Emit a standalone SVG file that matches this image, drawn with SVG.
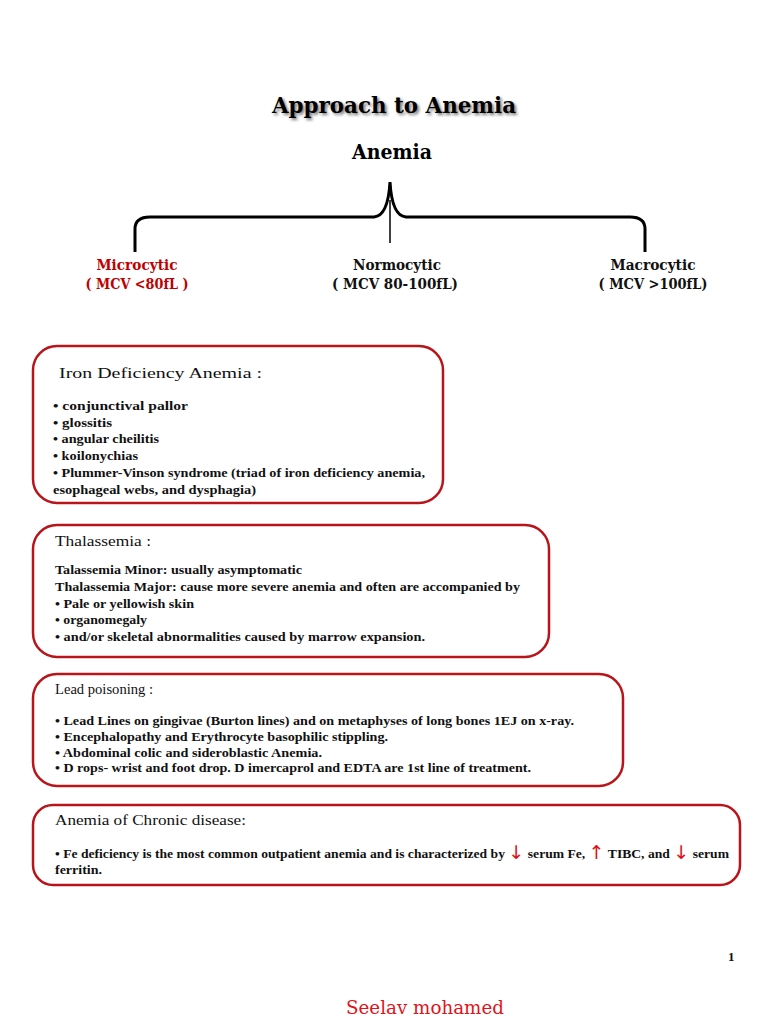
<svg xmlns="http://www.w3.org/2000/svg" width="768" height="1024" viewBox="0 0 768 1024">
<defs>
<filter id="shadow" x="-10%" y="-30%" width="120%" height="160%"><feGaussianBlur stdDeviation="1.5"/></filter>
</defs>
<style>
.box{fill:#fff;stroke:#b8141a;stroke-width:2.5}
.hd{font-family:"Liberation Serif","DejaVu Serif",serif;font-size:15.5px;fill:#111}
.bd{font-family:"Liberation Serif","DejaVu Serif",serif;font-size:13.5px;font-weight:bold;fill:#111}
.lbl{font-family:"DejaVu Serif","Liberation Serif",serif;font-size:14px;font-weight:bold;fill:#111}
.red{fill:#c00000}
.ttl{font-family:"DejaVu Serif","Liberation Serif",serif;font-weight:bold;fill:#000}
.arr{fill:#e0141a;font-weight:normal;font-family:"DejaVu Sans",sans-serif;font-size:19px}
</style>
<rect width="768" height="1024" fill="#fff"/>
<g id="title">
<text x="396" y="115" text-anchor="middle" class="ttl" font-size="22" textLength="244" lengthAdjust="spacingAndGlyphs" style="fill:#777" filter="url(#shadow)">Approach to Anemia</text>
<text x="394" y="113" text-anchor="middle" class="ttl" font-size="22" textLength="244" lengthAdjust="spacingAndGlyphs">Approach to Anemia</text>
</g>
<g id="anemia">
<text x="392" y="159" text-anchor="middle" class="ttl" font-size="20" textLength="80" lengthAdjust="spacingAndGlyphs">Anemia</text>
</g>
<g id="connectors" fill="none" stroke="#000">
<path d="M135,252 L135,229 Q135,217 150,217 L374,217 Q388,216 390,182 Q392,216 406,217 L630,217 Q645,217 645,229 L645,252" stroke-width="3"/>
<line x1="390" y1="200" x2="390" y2="243" stroke-width="1.5"/>
</g>
<g id="microcytic">
<text x="137" y="270" text-anchor="middle" class="lbl red" textLength="81" lengthAdjust="spacingAndGlyphs">Microcytic</text>
<text x="137" y="289" text-anchor="middle" class="lbl red" textLength="103" lengthAdjust="spacingAndGlyphs">( MCV &lt;80fL )</text>
</g>
<g id="normocytic">
<text x="397" y="270" text-anchor="middle" class="lbl" textLength="88" lengthAdjust="spacingAndGlyphs">Normocytic</text>
<text x="395" y="289" text-anchor="middle" class="lbl" textLength="126" lengthAdjust="spacingAndGlyphs">( MCV 80-100fL)</text>
</g>
<g id="macrocytic">
<text x="653" y="270" text-anchor="middle" class="lbl" textLength="85" lengthAdjust="spacingAndGlyphs">Macrocytic</text>
<text x="653" y="289" text-anchor="middle" class="lbl" textLength="109" lengthAdjust="spacingAndGlyphs">( MCV &gt;100fL)</text>
</g>
<g id="iron-deficiency">
<rect class="box" x="33" y="346" width="410" height="157" rx="24"/>
<text x="59" y="378" class="hd" textLength="203" lengthAdjust="spacingAndGlyphs">Iron Deficiency Anemia :</text>
<text x="53" y="410" class="bd" textLength="135" lengthAdjust="spacingAndGlyphs">• conjunctival pallor</text>
<text x="53" y="427" class="bd" textLength="59" lengthAdjust="spacingAndGlyphs">• glossitis</text>
<text x="53" y="443" class="bd" textLength="106" lengthAdjust="spacingAndGlyphs">• angular cheilitis</text>
<text x="53" y="460" class="bd" textLength="85" lengthAdjust="spacingAndGlyphs">• koilonychias</text>
<text x="53" y="477" class="bd" textLength="372" lengthAdjust="spacingAndGlyphs">• Plummer-Vinson syndrome (triad of iron deficiency anemia,</text>
<text x="53" y="494" class="bd" textLength="203" lengthAdjust="spacingAndGlyphs">esophageal webs, and dysphagia)</text>
</g>
<g id="thalassemia">
<rect class="box" x="33" y="525" width="516" height="132" rx="24"/>
<text x="55" y="546" class="hd" textLength="96" lengthAdjust="spacingAndGlyphs">Thalassemia :</text>
<text x="55" y="574" class="bd" textLength="247" lengthAdjust="spacingAndGlyphs">Talassemia Minor: usually asymptomatic</text>
<text x="55" y="591" class="bd" textLength="465" lengthAdjust="spacingAndGlyphs">Thalassemia Major: cause more severe anemia and often are accompanied by</text>
<text x="55" y="608" class="bd" textLength="139" lengthAdjust="spacingAndGlyphs">• Pale or yellowish skin</text>
<text x="55" y="624" class="bd" textLength="92" lengthAdjust="spacingAndGlyphs">• organomegaly</text>
<text x="55" y="641" class="bd" textLength="370" lengthAdjust="spacingAndGlyphs">• and/or skeletal abnormalities caused by marrow expansion.</text>
</g>
<g id="lead-poisoning">
<rect class="box" x="33" y="674" width="590" height="112" rx="24"/>
<text x="55" y="694" class="hd" textLength="98" lengthAdjust="spacingAndGlyphs">Lead poisoning :</text>
<text x="55" y="725" class="bd" textLength="519" lengthAdjust="spacingAndGlyphs">• Lead Lines on gingivae (Burton lines) and on metaphyses of long bones 1EJ on x-ray.</text>
<text x="55" y="741" class="bd" textLength="333" lengthAdjust="spacingAndGlyphs">• Encephalopathy and Erythrocyte basophilic stippling.</text>
<text x="55" y="757" class="bd" textLength="267" lengthAdjust="spacingAndGlyphs">• Abdominal colic and sideroblastic Anemia.</text>
<text x="55" y="772" class="bd" textLength="476" lengthAdjust="spacingAndGlyphs">• D rops- wrist and foot drop. D imercaprol and EDTA are 1st line of treatment.</text>
</g>
<g id="chronic-disease">
<rect class="box" x="33" y="805" width="707" height="80" rx="20"/>
<text x="55" y="825" class="hd" textLength="191" lengthAdjust="spacingAndGlyphs">Anemia of Chronic disease:</text>
<text x="55" y="858" class="bd" textLength="674" lengthAdjust="spacingAndGlyphs">• Fe deficiency is the most common outpatient anemia and is characterized by <tspan class="arr" dy="1">↓</tspan><tspan dy="-1"> serum Fe, </tspan><tspan class="arr" dy="1">↑</tspan><tspan dy="-1"> TIBC, and </tspan><tspan class="arr" dy="1">↓</tspan><tspan dy="-1"> serum</tspan></text>
<text x="55" y="874" class="bd" textLength="47" lengthAdjust="spacingAndGlyphs">ferritin.</text>
</g>
<g id="footer">
<text x="728" y="961" font-family="Liberation Serif, serif" font-weight="bold" font-size="13" fill="#111">1</text>
<text x="346" y="1014" font-family="DejaVu Serif, Liberation Serif, serif" font-size="18" fill="#e0141a" textLength="158" lengthAdjust="spacingAndGlyphs">Seelav mohamed</text>
</g>
</svg>
